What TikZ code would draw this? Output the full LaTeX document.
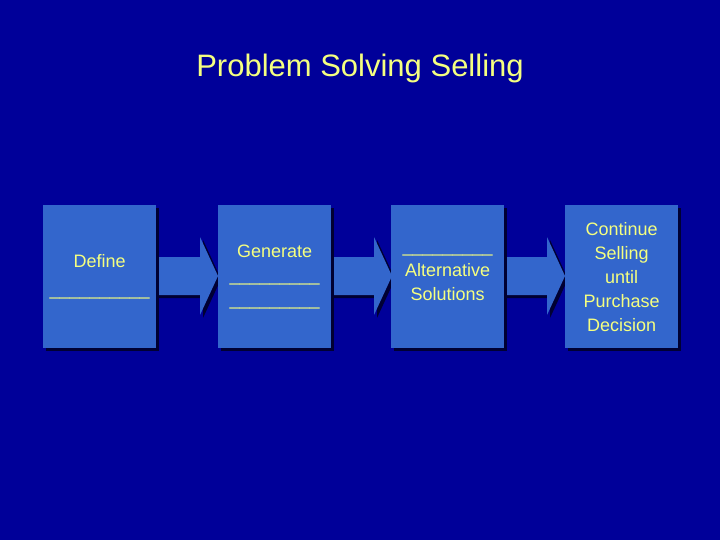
\documentclass[tikz,border=0pt]{standalone}
\usepackage{fontspec}
\setmainfont{Liberation Sans}
\definecolor{bg}{HTML}{000099}
\definecolor{boxc}{HTML}{3366CC}
\definecolor{txt}{HTML}{F5FF80}
\definecolor{shad}{HTML}{000033}
\begin{document}
\begin{tikzpicture}[x=1pt,y=-1pt,
  stepbox/.style={fill=boxc,draw=none,minimum width=113pt,minimum height=143pt,inner sep=0pt,
    text=txt,font=\fontsize{18}{24}\selectfont,align=center,anchor=north west},
  shadowbox/.style={fill=shad,minimum width=113pt,minimum height=143pt,inner sep=0pt,anchor=north west}]
\fill[bg] (0,0) rectangle (720,540);
\node[text=txt,font=\fontsize{31}{36}\selectfont] (title) at (360,68) {Problem Solving Selling};
% arrows
\foreach \x/\n in {156/a1,330/a2,503/a3}{
  \fill[shad] (\x+3,260) -- (\x+47,260) -- (\x+47,240) -- (\x+65,279) -- (\x+47,318) -- (\x+47,298) -- (\x+3,298) -- cycle;
  \fill[boxc] (\x,257) -- (\x+44,257) -- (\x+44,237) -- (\x+62,276) -- (\x+44,315) -- (\x+44,295) -- (\x,295) -- cycle;
}
\foreach \x in {43,218,391,565}{ \node[shadowbox] at (\x+3,208) {}; }
\node[stepbox] (b1) at (43,205) {Define\\[4pt]\_\_\_\_\_\_\_\_\_\_};
\node[stepbox] (b2) at (218,205) {Generate\\\_\_\_\_\_\_\_\_\_\\\_\_\_\_\_\_\_\_\_};
\node[stepbox] (b3) at (391,205) {\_\_\_\_\_\_\_\_\_\\Alternative\\Solutions};
\node[stepbox] (b4) at (565,205) {Continue\\Selling\\until\\Purchase\\Decision};
\end{tikzpicture}
\end{document}
